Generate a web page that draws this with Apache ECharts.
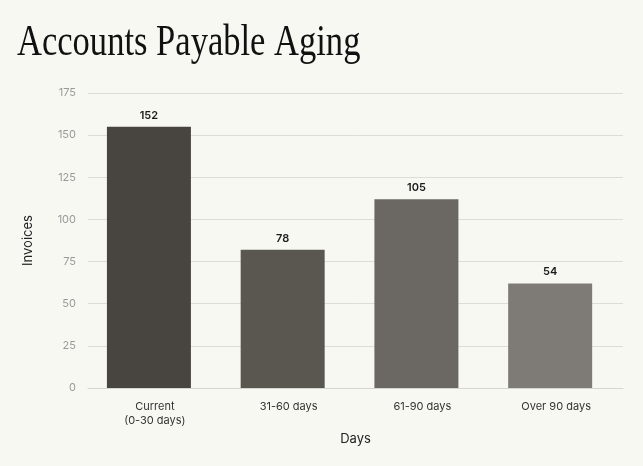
<!DOCTYPE html>
<html>
<head>
<meta charset="utf-8">
<script src="https://cdn.jsdelivr.net/npm/echarts@6/dist/echarts.min.js"></script>
<style>
  html, body { margin: 0; padding: 0; background: #f8f8f3; }
  #chart { width: 643px; height: 466px; }
</style>
</head>
<body>
<div id="chart"></div>
<script>
const categories = ["Current\n(0-30 days)", "31-60 days", "61-90 days", "Over 90 days"];
// bar heights as drawn, and the numbers printed above them
const barHeights = [155, 82, 112, 62];
const barLabels = [152, 78, 105, 54];
const barColors = ["#48443f", "#5a5650", "#6b6762", "#7e7a75"];
const yTicks = { min: 0, max: 175, interval: 25 };

const font = "Inter, 'Noto Sans', sans-serif";

const chart = echarts.init(document.getElementById("chart"));
chart.setOption({
  backgroundColor: "#f8f8f3",
  animation: false,
  graphic: [{
    type: "text",
    left: 17,
    top: 21,
    scaleX: 0.785,
    style: {
      text: "Accounts Payable Aging",
      font: "normal 44px 'Liberation Serif', serif",
      fill: "#111"
    }
  }],
  grid: { left: 88, right: 20, top: 93, bottom: 78 },
  xAxis: {
    type: "category",
    data: categories,
    name: "Days",
    nameLocation: "middle",
    nameGap: 42,
    nameTextStyle: { fontFamily: font, fontSize: 13, color: "#222" },
    axisLine: { lineStyle: { color: "#d6d6d2" } },
    axisTick: { show: false },
    axisLabel: { fontFamily: font, fontSize: 11, color: "#333", margin: 12, lineHeight: 14 }
  },
  yAxis: {
    type: "value",
    min: yTicks.min,
    max: yTicks.max,
    interval: yTicks.interval,
    name: "Invoices",
    nameLocation: "middle",
    nameGap: 53,
    nameTextStyle: { fontFamily: font, fontSize: 13, color: "#222" },
    axisLine: { show: false },
    axisTick: { show: false },
    axisLabel: { fontFamily: font, fontSize: 11, color: "#999", margin: 12 },
    splitLine: { lineStyle: { color: "#dcdcd8" } }
  },
  series: [
    {
      type: "bar",
      barWidth: 84,
      barGap: "13%",
      data: barHeights.map((v, i) => ({ value: v, itemStyle: { color: barColors[i] } })),
      label: {
        show: true,
        position: "top",
        distance: 6,
        fontFamily: font,
        fontSize: 11,
        fontWeight: 600,
        color: "#1a1a1a",
        formatter: (p) => String(barLabels[p.dataIndex])
      }
    },
    // empty placeholder series: the source chart leaves a little room right of each bar
    { type: "bar", barWidth: 1, data: [] }
  ]
});
</script>
</body>
</html>
